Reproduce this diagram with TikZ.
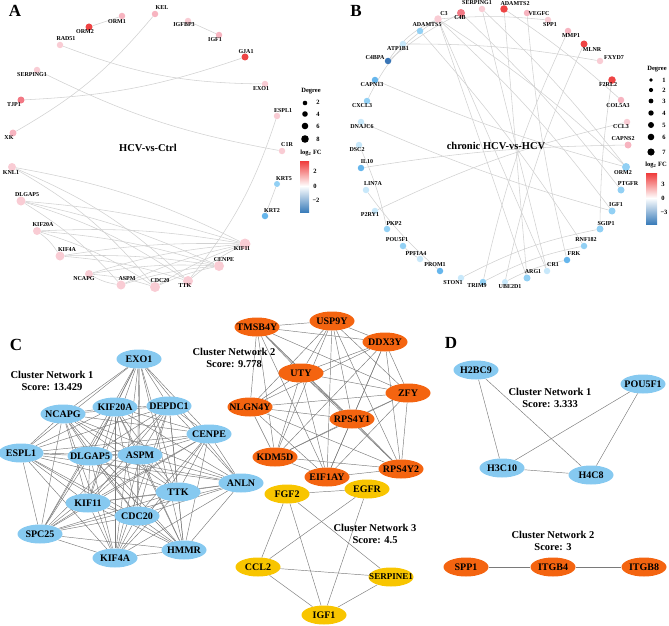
\documentclass[tikz,border=0pt]{standalone}
\usepackage{fontspec}
\setmainfont{Liberation Serif}
\usetikzlibrary{backgrounds,shapes.geometric}
\definecolor{pl}{HTML}{F9CCD4}
\definecolor{pk}{HTML}{F7B4C0}
\definecolor{pr}{HTML}{F27884}
\definecolor{rd}{HTML}{EE4444}
\definecolor{bl}{HTML}{C8E8FA}
\definecolor{bm}{HTML}{92D0F4}
\definecolor{bd}{HTML}{66B6EC}
\definecolor{bx}{HTML}{3A76B6}
\definecolor{cb}{HTML}{86C9F0}
\definecolor{co}{HTML}{F46410}
\definecolor{cy}{HTML}{F8C500}
\definecolor{barred}{HTML}{EF3B3B}
\definecolor{barblue}{HTML}{3B7DBA}
\tikzset{
  pdot/.style={circle, inner sep=0pt, draw=none},
  plab/.style={font=\bfseries\fontsize{6}{7}\selectfont, inner sep=0pt},
  aedge/.style={draw=black!18, line width=0.55pt},
  cnode/.style={ellipse, inner sep=0pt, minimum width=45pt, minimum height=19pt, font=\bfseries\fontsize{10}{10}\selectfont},
  cblue/.style={cnode, fill=cb},
  corange/.style={cnode, fill=co},
  cyellow/.style={cnode, fill=cy},
  cedge/.style={draw=black!52, line width=0.45pt},
  ctitle/.style={font=\bfseries\fontsize{10.5}{12.5}\selectfont, align=center, inner sep=0pt},
  ptitle/.style={font=\bfseries\fontsize{10.5}{12}\selectfont, inner sep=0pt},
  panel/.style={font=\bfseries\fontsize{17}{17}\selectfont, inner sep=0pt},
  leg/.style={font=\bfseries\fontsize{6.5}{7}\selectfont, inner sep=0pt},
}
\newcommand\pn[6]{\node[pdot, minimum size=#3, fill=#4] (#1) at (#2) {};\node[plab] (#1-t) at (#5) {#6};}
\newcommand\cn[4]{\node[#1] (#2) at (#3) {\makebox[0pt]{#4}};}
\begin{document}
\begin{tikzpicture}[x=1pt,y=-1pt]
\useasboundingbox (0,0) rectangle (669,626);
% ---------------- Panel A ----------------
\node[panel] (A) at (15,11) {A};
\node[ptitle] (atitle) at (148,148) {HCV-vs-Ctrl};
\pn{a-ORM1}{122,16}{6.5pt}{pk}{117,22}{ORM1}
\pn{a-ORM2}{89,27}{7pt}{rd}{85,32}{ORM2}
\pn{a-KEL}{155,14}{6.5pt}{pk}{162,8}{KEL}
\pn{a-RAD51}{60,45}{6.5pt}{pl}{66,39}{RAD51}
\pn{a-SERPING1}{37,70}{6.5pt}{pl}{32,75}{SERPING1}
\pn{a-TJP1}{21,100}{7pt}{pr}{14,105}{TJP1}
\pn{a-XK}{13,133}{7pt}{pk}{9,138}{XK}
\pn{a-IGFBP3}{188,21}{6.5pt}{pl}{184,25}{IGFBP3}
\pn{a-IGF1}{219,35}{6.5pt}{pk}{215,40}{IGF1}
\pn{a-GJA1}{245,57}{7pt}{rd}{246,52}{GJA1}
\pn{a-EXO1}{265,84}{6.5pt}{pl}{261,89}{EXO1}
\pn{a-ESPL1}{277,116}{6.5pt}{pl}{283,111}{ESPL1}
\pn{a-C1R}{282,151}{6.5pt}{pl}{287,145}{C1R}
\pn{a-KRT5}{277,184}{6pt}{bm}{284,179}{KRT5}
\pn{a-KRT2}{265,216}{6.5pt}{bd}{272,211}{KRT2}
\pn{a-KNL1}{12,167}{8pt}{pl}{11,173}{KNL1}
\pn{a-DLGAP5}{21,201}{9pt}{pl}{27,195}{DLGAP5}
\pn{a-KIF20A}{37,231}{8pt}{pl}{43,225}{KIF20A}
\pn{a-KIF4A}{60,256}{9pt}{pl}{67,250}{KIF4A}
\pn{a-NCAPG}{89,274}{8pt}{pl}{84,279}{NCAPG}
\pn{a-ASPM}{121,285}{9pt}{pl}{127,279}{ASPM}
\pn{a-CDC20}{155,287}{10pt}{pl}{160,281}{CDC20}
\pn{a-TTK}{188,281}{10pt}{pl}{185,286}{TTK}
\pn{a-CENPE}{219,266}{10pt}{pl}{224,260}{CENPE}
\pn{a-KIF11}{245,244}{11pt}{pl}{242,249}{KIF11}
\begin{pgfonlayer}{background}
\draw[aedge] (a-ORM2) -- (a-ORM1);
\draw[aedge] (a-IGFBP3) -- (a-IGF1);
\draw[aedge] (a-KEL) to[bend left=10] (a-XK);
\draw[aedge] (a-RAD51) to[bend right=10] (a-EXO1);
\draw[aedge] (a-TJP1) to[bend right=8] (a-GJA1);
\draw[aedge] (a-SERPING1) to[bend right=8] (a-C1R);
\draw[aedge] (a-ESPL1) to[bend left=10] (a-TTK);
\draw[aedge] (a-KRT5) -- (a-KRT2);
\draw[aedge] (a-KNL1) to[bend left=8] (a-KIF11);
\draw[aedge] (a-KNL1) to[bend left=10] (a-TTK);
\draw[aedge] (a-KNL1) to[bend left=10] (a-CDC20);
\draw[aedge] (a-DLGAP5) to[bend left=6] (a-KIF11);
\draw[aedge] (a-DLGAP5) to[bend left=6] (a-CENPE);
\draw[aedge] (a-DLGAP5) to[bend left=8] (a-TTK);
\draw[aedge] (a-DLGAP5) to[bend left=8] (a-ASPM);
\draw[aedge] (a-KIF20A) to[bend left=10] (a-KIF4A);
\draw[aedge] (a-KIF20A) to[bend left=6] (a-KIF11);
\draw[aedge] (a-KIF20A) to[bend left=6] (a-CENPE);
\draw[aedge] (a-KIF20A) to[bend left=8] (a-CDC20);
\draw[aedge] (a-KIF4A) to[bend left=5] (a-KIF11);
\draw[aedge] (a-KIF4A) to[bend left=5] (a-CENPE);
\draw[aedge] (a-KIF4A) to[bend left=6] (a-TTK);
\draw[aedge] (a-NCAPG) to[bend left=6] (a-KIF11);
\draw[aedge] (a-NCAPG) to[bend left=6] (a-CENPE);
\draw[aedge] (a-NCAPG) to[bend right=10] (a-ASPM);
\draw[aedge] (a-NCAPG) to[bend left=6] (a-CDC20);
\draw[aedge] (a-ASPM) to[bend left=6] (a-KIF11);
\draw[aedge] (a-ASPM) to[bend left=6] (a-CENPE);
\draw[aedge] (a-CDC20) to[bend left=6] (a-KIF11);
\draw[aedge] (a-CDC20) to[bend left=6] (a-CENPE);
\draw[aedge] (a-TTK) to[bend left=6] (a-KIF11);
\end{pgfonlayer}
% legend A
\node[leg] (adeg) at (311,91) {Degree};
\fill (305,103) circle (2.3pt); \node[leg] at (318,102) {2};
\fill (305,114) circle (2.8pt); \node[leg] at (318,114) {4};
\fill (305,126) circle (3.3pt); \node[leg] at (318,126) {6};
\fill (305,139) circle (3.8pt); \node[leg] at (318,139) {8};
\node[leg] (afc) at (311,153) {log\textsubscript{2} FC};
\shade[top color=barred, bottom color=white] (300,161) rectangle (309,186);
\shade[top color=white, bottom color=barblue] (300,186) rectangle (309,212);
\node[leg] at (315,171) {2};
\node[leg] at (315,186) {0};
\node[leg] at (316,200) {−2};
% ---------------- Panel B ----------------
\node[panel] (B) at (356,11) {B};
\node[ptitle] (btitle) at (496,146) {chronic HCV-vs-HCV};
\pn{b-C4B}{461,13}{8pt}{pr}{460,18}{C4B}
\pn{b-SERPING1}{482,9}{6.5pt}{pl}{477,3}{SERPING1}
\pn{b-ADAMTS2}{504,9}{7.5pt}{rd}{515,4}{ADAMTS2}
\pn{b-VEGFC}{527,13}{6.5pt}{pk}{539,14}{VEGFC}
\pn{b-SPP1}{548,20}{6.5pt}{pl}{550,25}{SPP1}
\pn{b-MMP1}{568,31}{6.5pt}{pk}{571,36}{MMP1}
\pn{b-MLNR}{584,44}{7pt}{rd}{592,50}{MLNR}
\pn{b-FXYD7}{600,61}{6.5pt}{pl}{614,58}{FXYD7}
\pn{b-F2RL2}{612,80}{7.5pt}{rd}{608,85}{F2RL2}
\pn{b-COL5A3}{621,100}{6.5pt}{pk}{618,106}{COL5A3}
\pn{b-CCL3}{627,122}{6.5pt}{pl}{621,127}{CCL3}
\pn{b-CAPNS2}{628,145}{7pt}{pk}{623,139}{CAPNS2}
\pn{b-ORM2}{626,167}{8pt}{bm}{623,173}{ORM2}
\pn{b-PTGFR}{621,190}{7pt}{bm}{628,184}{PTGFR}
\pn{b-IGF1}{612,211}{7pt}{bm}{616,205}{IGF1}
\pn{b-SGIP1}{600,229}{7pt}{bm}{606,224}{SGIP1}
\pn{b-RNF182}{584,246}{6.5pt}{bm}{586,240}{RNF182}
\pn{b-FRK}{567,260}{6.5pt}{bd}{574,254}{FRK}
\pn{b-CR1}{547,271}{6.5pt}{bl}{553,265}{CR1}
\pn{b-ARG1}{527,278}{7pt}{bm}{533,272}{ARG1}
\pn{b-UBE2D1}{505,282}{6pt}{bl}{510,287}{UBE2D1}
\pn{b-TRIM9}{483,282}{6.5pt}{bm}{477,286}{TRIM9}
\pn{b-STON1}{461,278}{6.5pt}{bl}{453,283}{STON1}
\pn{b-PROM1}{440,271}{6.5pt}{bd}{435,265}{PROM1}
\pn{b-PPFIA4}{420,259}{6.5pt}{bl}{416,254}{PPFIA4}
\pn{b-POU5F1}{403,246}{6.5pt}{bm}{397,240}{POU5F1}
\pn{b-PKP2}{387,229}{6.5pt}{bm}{394,224}{PKP2}
\pn{b-P2RY1}{375,211}{6.5pt}{bl}{370,215}{P2RY1}
\pn{b-LIN7A}{366,190}{6.5pt}{bl}{373,184}{LIN7A}
\pn{b-IL10}{361,168}{6.5pt}{bd}{367,162}{IL10}
\pn{b-DSC2}{359,145}{6.5pt}{bl}{357,150}{DSC2}
\pn{b-DNAJC6}{361,122}{6.5pt}{bl}{362,127}{DNAJC6}
\pn{b-CXCL3}{367,101}{6.5pt}{bm}{362,106}{CXCL3}
\pn{b-CAPN13}{375,80}{6.5pt}{bd}{372,85}{CAPN13}
\pn{b-C4BPA}{388,61}{6.5pt}{bx}{375,58}{C4BPA}
\pn{b-ATP1B1}{403,44}{6.5pt}{bl}{398,49}{ATP1B1}
\pn{b-ADAMTS5}{420,31}{6.5pt}{bm}{427,25}{ADAMTS5}
\pn{b-C3}{438,19}{7.5pt}{pl}{444,14}{C3}
\begin{pgfonlayer}{background}
\draw[aedge] (b-C3) to[bend right=15] (b-C4BPA);
\draw[aedge] (b-C3) to[bend right=15] (b-CXCL3);
\draw[aedge] (b-C3) to[bend left=5] (b-SPP1);
\draw[aedge] (b-C3) to[bend left=5] (b-ORM2);
\draw[aedge] (b-C3) to[bend left=5] (b-IGF1);
\draw[aedge] (b-C3) -- (b-CR1);
\draw[aedge] (b-C3) -- (b-ARG1);
\draw[aedge] (b-C4B) to[bend left=4] (b-PTGFR);
\draw[aedge] (b-C4B) to[bend right=6] (b-C4BPA);
\draw[aedge] (b-SERPING1) -- (b-CR1);
\draw[aedge] (b-SERPING1) to[bend left=4] (b-ORM2);
\draw[aedge] (b-ADAMTS2) to[bend left=4] (b-COL5A3);
\draw[aedge] (b-ADAMTS2) -- (b-ARG1);
\draw[aedge] (b-VEGFC) to[bend right=4] (b-FRK);
\draw[aedge] (b-MMP1) to[bend right=6] (b-TRIM9);
\draw[aedge] (b-MLNR) to[bend right=6] (b-UBE2D1);
\draw[aedge] (b-F2RL2) to[bend right=4] (b-SGIP1);
\draw[aedge] (b-ATP1B1) to[bend left=5] (b-FXYD7);
\draw[aedge] (b-CAPN13) to[bend right=4] (b-ORM2);
\draw[aedge] (b-DNAJC6) to[bend right=4] (b-IGF1);
\draw[aedge] (b-IL10) to[bend left=4] (b-CAPNS2);
\draw[aedge] (b-P2RY1) to[bend left=6] (b-CCL3);
\draw[aedge] (b-DSC2) to[bend left=6] (b-PKP2);
\draw[aedge] (b-LIN7A) to[bend right=6] (b-PROM1);
\draw[aedge] (b-STON1) to[bend left=8] (b-SGIP1);
\draw[aedge] (b-TRIM9) to[bend left=8] (b-RNF182);
\draw[aedge] (b-UBE2D1) to[bend left=8] (b-FRK);
\draw[aedge] (b-POU5F1) to[bend right=6] (b-PPFIA4);
\draw[aedge] (b-ADAMTS5) to[bend left=4] (b-RNF182);
\end{pgfonlayer}
% legend B
\node[leg] (bdeg) at (657,69) {Degree};
\fill (651,80) circle (1.8pt); \node[leg] at (664,80) {1};
\fill (651,90) circle (2.1pt); \node[leg] at (664,90) {2};
\fill (651,101) circle (2.4pt); \node[leg] at (664,101) {3};
\fill (651,113) circle (2.7pt); \node[leg] at (664,113) {4};
\fill (651,125) circle (3.0pt); \node[leg] at (664,125) {5};
\fill (651,137) circle (3.3pt); \node[leg] at (664,137) {6};
\fill (651,152) circle (3.6pt); \node[leg] at (664,152) {7};
\node[leg] (bfc) at (656,165) {log\textsubscript{2} FC};
\shade[top color=barred, bottom color=white] (646,173) rectangle (657,198);
\shade[top color=white, bottom color=barblue] (646,198) rectangle (657,224);
\node[leg] at (663,184) {3};
\node[leg] at (663,198) {0};
\node[leg] at (664,212) {−3};
% ---------------- Panel C ----------------
\node[panel] (C) at (16,345) {C};
\node[ctitle] (ct1) at (52,381) {Cluster Network 1\\Score: 13.429};
\node[ctitle] (ct2) at (234,358) {Cluster Network 2\\Score: 9.778};
\node[ctitle] (ct3) at (375,534) {Cluster Network 3\\Score: 4.5};
\cn{cblue}{c-EXO1}{139,359}{EXO1}
\cn{cblue}{c-NCAPG}{63,414}{NCAPG}
\cn{cblue}{c-KIF20A}{115,407}{KIF20A}
\cn{cblue}{c-DEPDC1}{169,406}{DEPDC1}
\cn{cblue}{c-CENPE}{209,434}{CENPE}
\cn{cblue}{c-ESPL1}{21,453}{ESPL1}
\cn{cblue}{c-DLGAP5}{90,456}{DLGAP5}
\cn{cblue}{c-ASPM}{140,455}{ASPM}
\cn{cblue}{c-TTK}{178,492}{TTK}
\cn{cblue}{c-ANLN}{241,483}{ANLN}
\cn{cblue}{c-KIF11}{88,503}{KIF11}
\cn{cblue}{c-CDC20}{137,516}{CDC20}
\cn{cblue}{c-SPC25}{40,534}{SPC25}
\cn{cblue}{c-KIF4A}{115,558}{KIF4A}
\cn{cblue}{c-HMMR}{184,550}{HMMR}
\cn{corange}{c-TMSB4Y}{257,327}{TMSB4Y}
\cn{corange}{c-USP9Y}{332,321}{USP9Y}
\cn{corange}{c-DDX3Y}{385,342}{DDX3Y}
\cn{corange}{c-UTY}{301,373}{UTY}
\cn{corange}{c-ZFY}{408,393}{ZFY}
\cn{corange}{c-NLGN4Y}{250,407}{NLGN4Y}
\cn{corange}{c-RPS4Y1}{352,419}{RPS4Y1}
\cn{corange}{c-KDM5D}{275,457}{KDM5D}
\cn{corange}{c-EIF1AY}{327,477}{EIF1AY}
\cn{corange}{c-RPS4Y2}{401,469}{RPS4Y2}
\cn{cyellow}{c-FGF2}{287,494}{FGF2}
\cn{cyellow}{c-EGFR}{367,489}{EGFR}
\cn{cyellow}{c-CCL2}{258,567}{CCL2}
\cn{cyellow,font=\bfseries\fontsize{9}{10}\selectfont}{c-SERPINE1}{391,577}{SERPINE1}
\cn{cyellow}{c-IGF1}{324,615}{IGF1}
\begin{pgfonlayer}{background}
\foreach \u [count=\i] in {EXO1,NCAPG,KIF20A,DEPDC1,CENPE,ESPL1,DLGAP5,ASPM,TTK,ANLN,KIF11,CDC20,SPC25,KIF4A,HMMR}{
  \foreach \v [count=\j] in {EXO1,NCAPG,KIF20A,DEPDC1,CENPE,ESPL1,DLGAP5,ASPM,TTK,ANLN,KIF11,CDC20,SPC25,KIF4A,HMMR}{
    \ifnum\j>\i \draw[cedge] (c-\u) -- (c-\v); \fi
  }
}
\foreach \u [count=\i] in {TMSB4Y,USP9Y,DDX3Y,UTY,ZFY,NLGN4Y,RPS4Y1,KDM5D,EIF1AY,RPS4Y2}{
  \foreach \v [count=\j] in {TMSB4Y,USP9Y,DDX3Y,UTY,ZFY,NLGN4Y,RPS4Y1,KDM5D,EIF1AY,RPS4Y2}{
    \ifnum\j>\i \draw[cedge] (c-\u) -- (c-\v); \fi
  }
}
\foreach \u/\v in {FGF2/EGFR,FGF2/CCL2,FGF2/IGF1,FGF2/SERPINE1,EGFR/CCL2,EGFR/IGF1,CCL2/SERPINE1,CCL2/IGF1,SERPINE1/IGF1}{
  \draw[cedge] (c-\u) -- (c-\v);
}
\end{pgfonlayer}
% ---------------- Panel D ----------------
\node[panel] (D) at (451,343) {D};
\node[ctitle] (dt1) at (550,398) {Cluster Network 1\\Score: 3.333};
\node[ctitle] (dt2) at (553,541) {Cluster Network 2\\Score: 3};
\cn{cblue}{d-H2BC9}{476,370}{H2BC9}
\cn{cblue}{d-POU5F1}{643,384}{POU5F1}
\cn{cblue}{d-H3C10}{502,468}{H3C10}
\cn{cblue}{d-H4C8}{591,475}{H4C8}
\cn{corange}{d-SPP1}{466,567}{SPP1}
\cn{corange}{d-ITGB4}{553,567}{ITGB4}
\cn{corange}{d-ITGB8}{644,567}{ITGB8}
\begin{pgfonlayer}{background}
\foreach \u/\v in {H2BC9/H3C10,H2BC9/H4C8,POU5F1/H3C10,POU5F1/H4C8,H3C10/H4C8,SPP1/ITGB4,ITGB4/ITGB8}{
  \draw[cedge] (d-\u) -- (d-\v);
}
\end{pgfonlayer}
\end{tikzpicture}
\end{document}
